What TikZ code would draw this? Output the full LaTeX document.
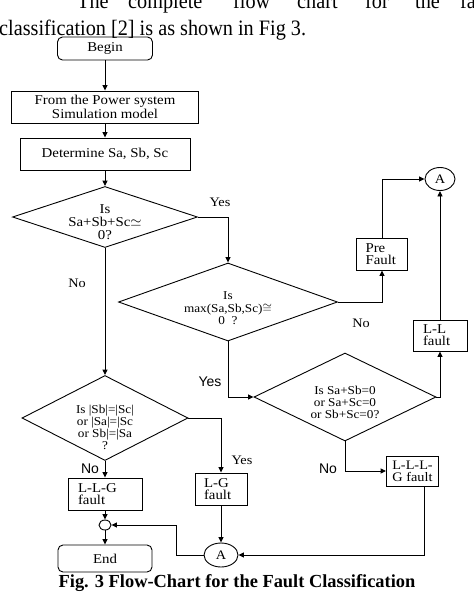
\documentclass[tikz,border=0pt]{standalone}
\usepackage{fontspec}
\setmainfont{Liberation Serif}
\newfontfamily\diagfont[FakeStretch=1.1]{Liberation Serif}
\newfontfamily\topfont[FakeStretch=0.92]{Liberation Serif}
\newfontfamily\labsans{Liberation Sans}
\usetikzlibrary{shapes.geometric,arrows.meta}
\newcommand\dtext[2][3pt]{\makebox[0pt]{\raisebox{-#1}[0pt][0pt]{\begin{tabular}{@{}c@{}}#2\end{tabular}}}}
\tikzset{
  shp/.style={draw, line width=0.9pt, inner sep=0pt},
  term/.style={shp, rounded corners=5pt, font=\diagfont\fontsize{13.5}{14}\selectfont},
  procbox/.style={shp, align=center, font=\diagfont\fontsize{13.5}{14}\selectfont},
  sbox/.style={shp, align=left, font=\diagfont\fontsize{13.5}{12}\selectfont},
  dia/.style={shp, diamond},
  con/.style={shp, ellipse, font=\diagfont\fontsize{13}{13}\selectfont},
  lab/.style={inner sep=0pt, font=\diagfont\fontsize{13}{13}\selectfont},
  slab/.style={inner sep=0pt, font=\labsans\fontsize{14}{14}\selectfont},
  toptxt/.style={anchor=base west, inner sep=0pt, font=\topfont\fontsize{22}{24}\selectfont},
  arr/.style={line width=0.9pt, -{Triangle[length=5.5pt,width=5pt]}},
}
\begin{document}
\begin{tikzpicture}[x=1pt,y=-1pt]
\clip (0,0) rectangle (474,592);
% running text above the figure
\node[toptxt] (t1) at (77,8) {The};
\node[toptxt] (t2) at (128,8) {complete};
\node[toptxt] (t3) at (233,8) {flow};
\node[toptxt] (t4) at (297,8) {chart};
\node[toptxt] (t5) at (365,8) {for};
\node[toptxt] (t6) at (415,8) {the};
\node[toptxt] (t7) at (460,8) {fault};
\node[toptxt] (t8) at (-1,35) {classification [2] is as shown in Fig 3.};

% flow chart nodes
\node[term, minimum width=95pt, minimum height=23pt] (begin) at (105,48.5) {Begin};
\node[procbox, minimum width=187pt, minimum height=32pt] (sim) at (105,107) {From the Power system\\Simulation model};
\node[procbox, minimum width=170pt, minimum height=32pt] (det) at (105,154) {Determine Sa, Sb, Sc};
\node[dia, minimum width=185pt, minimum height=61pt, font=\diagfont\fontsize{13.5}{12}\selectfont] (d1) at (105,217) {\dtext[10.5pt]{Is\\Sa+Sb+Sc$\simeq$\\0?}};
\node[dia, minimum width=219pt, minimum height=78pt, font=\diagfont\fontsize{12}{12.5}\selectfont] (d2) at (228,302) {\dtext[10.5pt]{Is\\max(Sa,Sb,Sc)$\cong$\\0\ \ ?}};
\node[sbox, text width=33pt, inner xsep=9pt, minimum height=32pt] (pre) at (382,254) {Pre\\Fault};
\node[con, minimum width=30pt, minimum height=23pt] (a1) at (440,179) {A};
\node[sbox, text width=34pt, inner xsep=10pt, minimum height=31pt] (ll) at (440,335.5) {L-L\\fault};
\node[dia, minimum width=182pt, minimum height=88pt, font=\diagfont\fontsize{12}{12}\selectfont] (d3) at (345,397) {\dtext[10.5pt]{Is Sa+Sb=0\\or Sa+Sc=0\\or Sb+Sc=0?}};
\node[procbox, font=\diagfont\fontsize{13}{12}\selectfont, minimum width=52pt, minimum height=30pt] (lllg) at (412.5,471) {L-L-L-\\G fault};
\node[dia, minimum width=166pt, minimum height=85pt, font=\diagfont\fontsize{12}{11.7}\selectfont] (d4) at (105,418) {\dtext[14pt]{Is |Sb|=|Sc|\\or |Sa|=|Sc\\or Sb|=|Sa\\?}};
\node[sbox, text width=34pt, inner xsep=9pt, minimum height=32pt] (lg) at (221,489) {L-G\\fault};
\node[sbox, text width=54pt, inner xsep=10pt, minimum height=32pt] (llg) at (105,494) {L-L-G\\fault};
\node[con, minimum width=12pt, minimum height=10pt] (sc) at (105,525) {};
\node[term, minimum width=94pt, minimum height=27pt] (end) at (105,558.5) {End};
\node[con, minimum width=34pt, minimum height=24pt] (a2) at (221,555) {A};
\coordinate (jn) at (176,555);

% connectors
\draw[arr] (begin.south) -- (sim.north);
\draw[arr] (sim.south) -- (det.north);
\draw[arr] (det.south) -- (d1.north);
\draw[arr] (d1.east) -| (d2.north);
\draw[arr] (d1.south) -- (d4.north);
\draw[arr] (d2.east) -| (pre.south);
\draw[arr] (pre.north) |- (a1.west);
\draw[arr] (ll.north) -- (a1.south);
\draw[arr] (d2.south) |- (d3.west);
\draw[arr] (d3.east) -| (ll.south);
\draw[arr] (d3.south) |- (lllg.west);
\draw[arr] ([xshift=12pt]lllg.south) |- (a2.east);
\draw[arr] (d4.east) -| (lg.north);
\draw[arr] (d4.south) -- (llg.north);
\draw[arr] (lg.south) -- (a2.north);
\draw[arr] (llg.south) -- (sc.north);
\draw[arr] (a2.west) -- (jn) |- (sc.east);
\draw[arr] (sc.south) -- (end.north);

% branch labels
\node[lab] (y1) at (220,202) {Yes};
\node[lab] (n1) at (77,283) {No};
\node[lab] (n2) at (361,323) {No};
\node[slab] (y2) at (210,382) {Yes};
\node[lab] (y3) at (242,460) {Yes};
\node[slab] (n3) at (90,469) {No};
\node[slab] (n4) at (328,469) {No};

% caption
\node[anchor=base, inner sep=0pt, font=\bfseries\fontsize{18.4}{20}\selectfont] (cap) at (237,587) {Fig. 3 Flow-Chart for the Fault Classification};
\end{tikzpicture}
\end{document}
